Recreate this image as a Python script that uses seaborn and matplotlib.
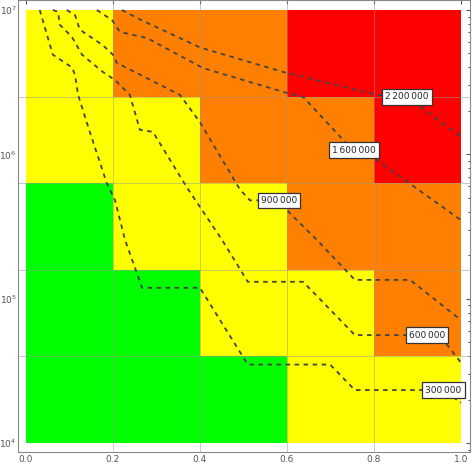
import numpy as np
import matplotlib
matplotlib.use("Agg")
import matplotlib.pyplot as plt
import seaborn as sns
from matplotlib.colors import ListedColormap

# cell grid: 5 x-bins, 5 log-y bins, levels 0=green 1=yellow 2=orange 3=red
x_edges = [0.0, 0.2, 0.4, 0.6, 0.8, 1.0]
y_edges = [1e4, 3.98e4, 1.585e5, 6.31e5, 2.512e6, 1e7]
levels = [  # bottom row first
    [0, 0, 0, 1, 1],
    [0, 0, 1, 1, 2],
    [0, 1, 1, 2, 2],
    [1, 1, 2, 2, 3],
    [1, 2, 2, 3, 3],
]
cell_colors = ["#00ff00", "#ffff00", "#ff8000", "#ff0000"]

# dashed contour lines
contours = {
    "300\u2009000": (
        [.032, .044, .062, .106, .113, .12, .147, .186, .205, .228, .251, .267, .4, .51, .699, .756, .96, 1.0],
        [1e7, 7.5e6, 4.9e6, 4.0e6, 3.55e6, 2.58e6, 1.43e6, 6.3e5, 4.8e5, 2.55e5, 1.63e5, 1.19e5, 1.19e5, 3.5e4, 3.5e4, 2.33e4, 2.33e4, 1.9e4],
        (.959, 2.33e4)),
    "600\u2009000": (
        [.062, .074, .078, .106, .129, .177, .205, .239, .262, .292, .37, .451, .51, .637, .756, .922, .968, 1.0],
        [1e7, 9.7e6, 7.9e6, 6.5e6, 4.9e6, 3.72e6, 3.27e6, 2.58e6, 1.48e6, 1.43e6, 5.9e5, 2.55e5, 1.31e5, 1.31e5, 5.6e4, 5.6e4, 4.8e4, 3.6e4],
        (.922, 5.6e4)),
    "900\u2009000": (
        [.094, .113, .124, .177, .2, .209, .354, .4, .492, .515, .582, .607, .669, .756, .883, 1.0],
        [1e7, 9.2e6, 7.3e6, 5.7e6, 4.9e6, 4.3e6, 2.58e6, 1.67e6, 5.7e5, 4.8e5, 4.8e5, 3.9e5, 2.55e5, 1.35e5, 1.35e5, 7.1e4],
        (.582, 4.8e5)),
    "1\u2009600\u2009000": (
        [.163, .198, .216, .278, .407, .6, .637, .729, .754, .807, 1.0],
        [1e7, 8.5e6, 7.05e6, 6.4e6, 3.96e6, 2.66e6, 2.5e6, 1.26e6, 1.07e6, 9.1e5, 3.5e5],
        (.754, 1.07e6)),
    "2\u2009200\u2009000": (
        [.221, .255, .4, .591, .807, .876, 1.0],
        [1e7, 8.8e6, 5.5e6, 3.72e6, 2.58e6, 2.5e6, 1.32e6],
        (.876, 2.5e6)),
}

sns.set_style("white")
plt.rcParams["font.family"] = ["DejaVu Sans"]

fig = plt.figure(figsize=(4.74, 4.67), dpi=100)
ax = fig.add_axes([0.038, 0.032, 0.954, 0.968])
ax.set_yscale("log")
ax.pcolormesh(x_edges, y_edges, np.array(levels), cmap=ListedColormap(cell_colors),
              vmin=-0.5, vmax=3.5)

for xe in x_edges[1:-1]:
    ax.axvline(xe, color="#999999", lw=0.6, alpha=0.6)
for ye in y_edges[1:-1]:
    ax.axhline(ye, color="#999999", lw=0.6, alpha=0.6)

for label, (xs, ys, pos) in contours.items():
    sns.lineplot(x=xs, y=ys, ax=ax, color="#444444", lw=1.3, ls=(0, (2.5, 2.5)),
                 sort=False, estimator=None)
    ax.text(pos[0], pos[1], label, fontsize=6.5, ha="center", va="center",
            bbox=dict(boxstyle="square,pad=0.35", fc="white", ec="#333333", lw=0.9))

ax.set_xlim(-0.018, 1.021)
ax.set_ylim(10 ** 3.938, 10 ** 7.069)
ax.set_xticks([0.0, 0.2, 0.4, 0.6, 0.8, 1.0])
ax.tick_params(labelsize=6.5, colors="#555555", direction="in", top=True, right=True,
               length=3, pad=2)
ax.tick_params(which="minor", direction="in", top=True, right=True, length=1.5)
ax.tick_params(axis="y", pad=1)
for s in ax.spines.values():
    s.set_color("#888888")

fig.savefig("out.png", dpi=100)
